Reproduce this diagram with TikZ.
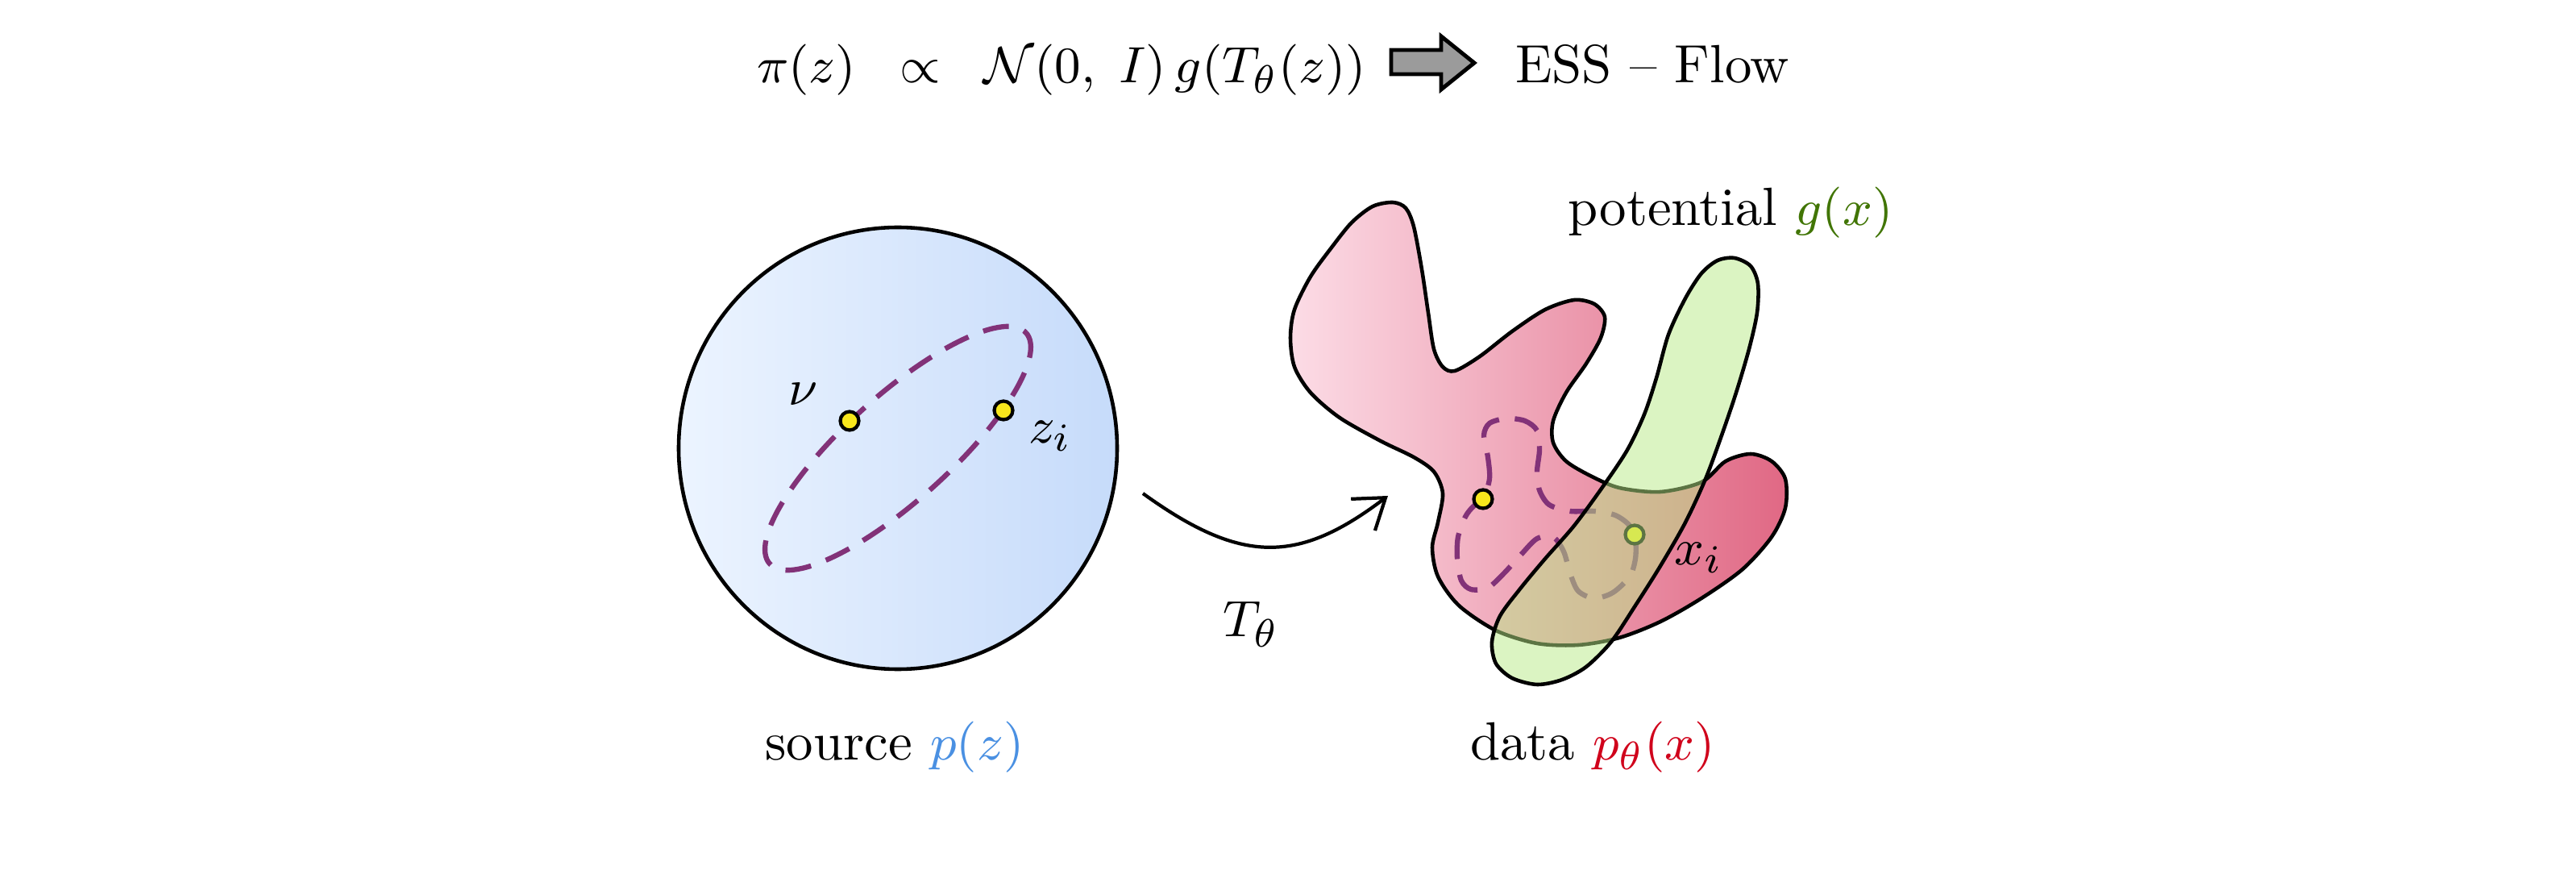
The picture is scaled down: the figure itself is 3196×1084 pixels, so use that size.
\documentclass[tikz,border=0pt]{standalone}
\usetikzlibrary{arrows.meta}
\definecolor{srcblue}{RGB}{74,144,226}
\definecolor{datared}{RGB}{208,2,27}
\definecolor{potgreen}{RGB}{65,117,5}
\definecolor{loopviolet}{RGB}{130,50,120}
\definecolor{dotyellow}{RGB}{248,231,28}
\definecolor{circL}{RGB}{236,244,255}
\definecolor{circR}{RGB}{198,219,250}
\definecolor{pinkL}{RGB}{252,220,230}
\definecolor{pinkR}{RGB}{224,104,132}
\definecolor{greenfill}{RGB}{184,233,134}
\definecolor{fatgray}{RGB}{155,155,155}
\begin{document}
\begin{tikzpicture}[x=0.05mm,y=-0.05mm,
  outline/.style={draw=black, line width=0.65pt},
  dashloop/.style={draw=loopviolet, line width=0.9pt, dash pattern=on 4.6pt off 2.8pt},
  dot/.style={circle, draw=black, fill=dotyellow, line width=0.6pt, inner sep=0pt, minimum size=1.15mm},
  lbl/.style={font=\fontsize{9.5}{11.5}\selectfont, inner sep=0pt}]
\useasboundingbox (0,0) rectangle (3196,1084);

% title line
\node[lbl, anchor=base] (formula) at (1317,103) {$\pi(z)\;\;\propto\;\;\mathcal{N}(0,\;I)\,g(T_\theta(z))$};
\draw[fill=fatgray, line width=0.7pt, line join=miter]
  (1726,62) -- (1788,62) -- (1788,45) -- (1829,78) -- (1788,111) -- (1788,92) -- (1726,92) -- cycle;
\node[lbl, anchor=base] (ess) at (2050,103) {ESS -- Flow};

% source circle
\coordinate (cc) at (1114,556);
\path[outline, left color=circL, right color=circR] (cc) ellipse [x radius=272, y radius=274];
\draw[dashloop, rotate around={42:(cc)}] (cc) ellipse [x radius=214, y radius=65];
\node[dot] (nu) at (1054,522) {};
\node[dot] (zi) at (1245,509) {};
\node[lbl] (nulbl) at (997,489) {$\nu$};
\node[lbl] (zilbl) at (1303,541) {$z_i$};
\node[lbl, anchor=base] (src) at (1110,942) {source \textcolor{srcblue}{$p(z)$}};

% transport arrow
\coordinate (tstart) at (1418,612);
\coordinate (tend) at (1722,615);
\draw[line width=0.6pt, -{Straight Barb[length=5pt,width=7pt]}] (tstart) .. controls (1540,700) and (1610,700) .. (tend);
\node[lbl, anchor=base] (tlbl) at (1552,790) {$T_\theta$};

% data blob
\path[outline, left color=pinkL, right color=pinkR] plot[smooth cycle, tension=0.5] coordinates {
  (1728,251) (1703,256) (1677,276) (1652,307) (1626,343) (1606,384) (1601,419)
  (1606,455) (1626,487) (1662,518) (1713,547) (1754,567) (1779,585) (1790,612)
  (1784,648) (1777,679) (1784,715) (1810,751) (1856,782) (1907,798) (1958,800)
  (2009,791) (2060,771) (2111,742) (2162,706) (2198,666) (2215,630) (2215,594)
  (2198,572) (2172,563) (2141,572) (2111,598) (2060,610) (2009,605) (1973,590)
  (1943,572) (1927,549) (1927,522) (1943,487) (1968,451) (1986,419) (1991,393)
  (1978,377) (1953,372) (1917,384) (1876,411) (1836,442) (1805,460) (1790,455)
  (1779,433) (1772,388) (1764,334) (1754,281) (1744,258)};

% dashed loop in data space
\draw[dashloop] plot[smooth cycle, tension=0.5] coordinates {
  (1840,619) (1848,594) (1846,567) (1841,540) (1848,525) (1869,519) (1892,522)
  (1907,534) (1910,558) (1907,585) (1910,608) (1922,626) (1948,634) (1978,634)
  (2004,639) (2022,652) (2029,670) (2029,693) (2022,715) (2001,735) (1978,742)
  (1958,733) (1948,711) (1940,684) (1927,666) (1907,668) (1887,688) (1866,711)
  (1846,729) (1825,731) (1813,720) (1808,693) (1809,666) (1818,641) (1828,628)};
\node[dot] (ydot) at (1840,619) {};
\node[dot] (xdot) at (2028,663) {};

% potential blob
\path[draw=black, line width=0.65pt, fill=greenfill, fill opacity=0.5] plot[smooth cycle, tension=0.5] coordinates {
  (2131,323) (2152,320) (2172,330) (2181,352) (2180,388) (2170,433) (2154,487)
  (2136,540) (2116,594) (2091,648) (2060,702) (2029,751) (1999,796) (1968,827)
  (1938,843) (1907,849) (1876,841) (1856,823) (1851,796) (1861,764) (1887,729)
  (1917,693) (1953,652) (1989,603) (2019,558) (2040,514) (2055,469) (2070,415)
  (2091,370) (2111,339)};

\node[lbl] (xilbl) at (2108,692) {$x_i$};
\node[lbl, anchor=base] (pot) at (2147,280) {potential \textcolor{potgreen}{$g(x)$}};
\node[lbl, anchor=base] (data) at (1976,942) {data \textcolor{datared}{$p_\theta(x)$}};
\end{tikzpicture}
\end{document}
